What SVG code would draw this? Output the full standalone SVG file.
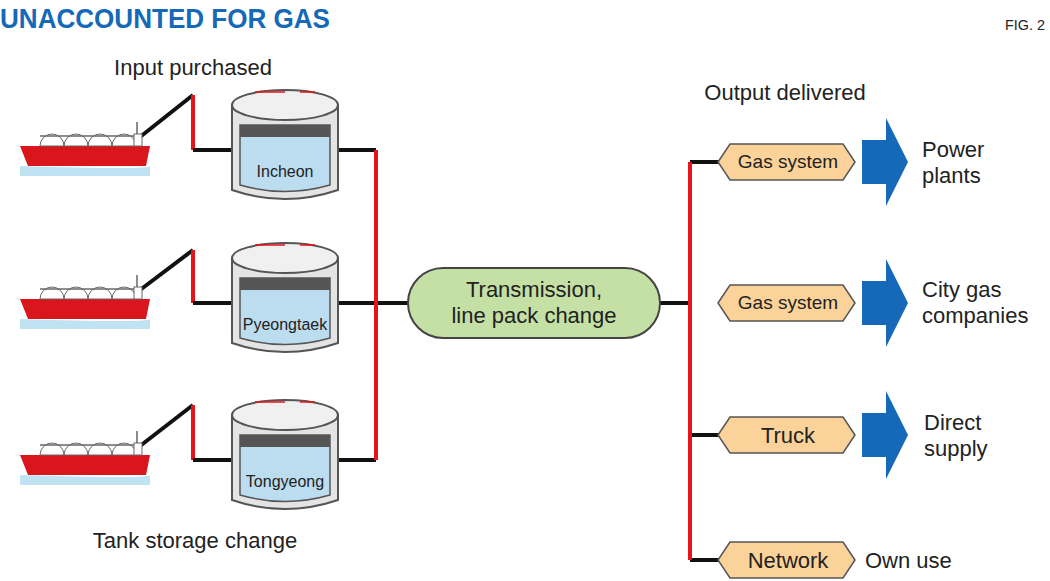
<svg xmlns="http://www.w3.org/2000/svg" width="1050" height="581" viewBox="0 0 1050 581">
<defs>
<style>
text{font-family:"Liberation Sans",Arial,sans-serif;fill:#222}
.red{stroke:#e8141b;stroke-width:4;fill:none}
.blk{stroke:#111;stroke-width:4;fill:none}
.hex{fill:#fbd39a;stroke:#555;stroke-width:1.5}
.arr{fill:#1569b8}
.lbl{font-size:22px}
.hx{font-size:19px;text-anchor:middle}
</style>
<g id="ship">
<path d="M20,146 L150,146 L146,166 L28,166 Z" fill="#d9161c"/>
<path d="M20,166 Q150,170 150,166 L150,176 L20,176 Z" fill="#bfe3f2"/>
<path d="M40,146 A12,12 0 0 1 64,146 A12,12 0 0 1 88,146 A12,12 0 0 1 112,146 A12,12 0 0 1 136,146 Z" fill="#fff" stroke="#666"/>
<path d="M40,136 L140,136" stroke="#666" stroke-width="1.5"/>
<rect x="134" y="134" width="8" height="12" fill="#fff" stroke="#666"/>
<path d="M137,134 L137,122" stroke="#666" stroke-width="1.5"/>
</g>
<g id="tank">
<path d="M232,-45 L232,40 Q285,58 338,40 L338,-45 Z" fill="#e4e4e4" stroke="#555" stroke-width="2"/>
<ellipse cx="285" cy="-45" rx="53" ry="15" fill="#f0f0f0" stroke="#555" stroke-width="2"/>
<path d="M240,-25 L330,-25 L330,35 Q285,48 240,35 Z" fill="#bcdcf0" stroke="#555" stroke-width="1.5"/>
<rect x="240" y="-25" width="90" height="12" fill="#555"/>
<path d="M255,-58 L285,-58 M300,-58 L315,-58" stroke="#e8141b" stroke-width="1.5"/>
</g>
</defs>
<text x="0" y="28" font-size="28" font-weight="bold" textLength="330" lengthAdjust="spacingAndGlyphs" style="fill:#1569b8">UNACCOUNTED FOR GAS</text>
<text x="1005" y="30" font-size="15" textLength="40" lengthAdjust="spacingAndGlyphs">FIG. 2</text>
<text x="193" y="75" class="lbl" text-anchor="middle">Input purchased</text>
<text x="195" y="548" class="lbl" text-anchor="middle">Tank storage change</text>
<text x="785" y="100" class="lbl" text-anchor="middle">Output delivered</text>
<g id="connectors">
<path class="blk" d="M140,137 L193,95"/><path class="red" d="M193,95 L193,150"/><path class="blk" d="M193,150 L232,150"/>
<path class="blk" d="M140,290 L193,250"/><path class="red" d="M193,250 L193,303"/><path class="blk" d="M193,303 L232,303"/>
<path class="blk" d="M140,446 L193,405"/><path class="red" d="M193,405 L193,460"/><path class="blk" d="M193,460 L232,460"/>
<path class="blk" d="M338,150 L376,150 M338,303 L410,303 M338,460 L376,460"/>
<path class="red" d="M376,150 L376,460"/>
<path class="blk" d="M658,303 L690,303 M690,162 L720,162 M690,435 L720,435 M690,560 L720,560"/>
<path class="red" d="M690,162 L690,560"/>
</g>
<g id="ship1"><use href="#ship"/></g>
<g id="ship2"><use href="#ship" y="153"/></g>
<g id="ship3"><use href="#ship" y="309"/></g>
<g id="incheon"><use href="#tank" y="150"/><text x="285" y="177" font-size="16" text-anchor="middle">Incheon</text></g>
<g id="pyeongtaek"><use href="#tank" y="303"/><text x="285" y="330" font-size="16" text-anchor="middle">Pyeongtaek</text></g>
<g id="tongyeong"><use href="#tank" y="460"/><text x="285" y="487" font-size="16" text-anchor="middle">Tongyeong</text></g>
<g id="transmission">
<rect x="408" y="268" width="252" height="70" rx="35" fill="#c5e0a5" stroke="#444" stroke-width="2"/>
<text x="534" y="297" font-size="22" text-anchor="middle">Transmission,</text>
<text x="534" y="323" font-size="22" text-anchor="middle">line pack change</text>
</g>
<g id="gas1"><path class="hex" d="M718,162 L730,144 L843,144 L855,162 L843,180 L730,180 Z"/><text x="788" y="168" class="hx">Gas system</text></g>
<g id="gas2"><path class="hex" d="M718,303 L730,285 L843,285 L855,303 L843,321 L730,321 Z"/><text x="788" y="309" class="hx">Gas system</text></g>
<g id="truck"><path class="hex" d="M718,435 L730,417 L843,417 L855,435 L843,453 L730,453 Z"/><text x="788" y="443" font-size="22" text-anchor="middle">Truck</text></g>
<g id="network"><path class="hex" d="M718,560 L730,542 L843,542 L855,560 L843,578 L730,578 Z"/><text x="788" y="568" font-size="22" text-anchor="middle">Network</text></g>
<g id="power"><path class="arr" d="M862,140 L886,140 L886,118 L908,162 L886,206 L886,184 L862,184 Z"/><text x="922" y="157" class="lbl">Power</text><text x="922" y="183" class="lbl">plants</text></g>
<g id="city"><path class="arr" d="M862,281 L886,281 L886,259 L908,303 L886,347 L886,325 L862,325 Z"/><text x="922" y="297" class="lbl">City gas</text><text x="922" y="323" class="lbl">companies</text></g>
<g id="direct"><path class="arr" d="M862,413 L886,413 L886,391 L908,435 L886,479 L886,457 L862,457 Z"/><text x="924" y="430" class="lbl">Direct</text><text x="924" y="456" class="lbl">supply</text></g>
<text x="865" y="568" class="lbl">Own use</text>
</svg>
